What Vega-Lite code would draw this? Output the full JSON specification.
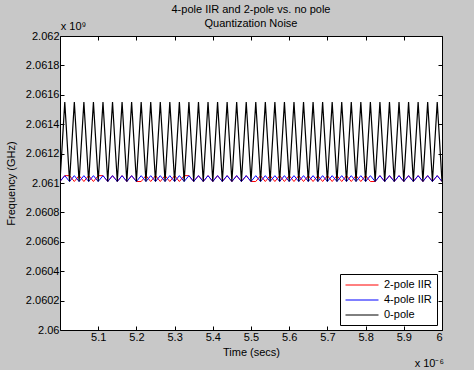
{
  "$schema": "https://vega.github.io/schema/vega-lite/v6.json",
  "width": 382,
  "height": 294,
  "autosize": {"type": "none"},
  "padding": {"left": 60, "top": 36, "right": 32, "bottom": 40},
  "background": "#c8c8c8",
  "config": {
    "font": "Liberation Sans",
    "view": {"stroke": "black", "strokeWidth": 1, "fill": "white"},
    "axis": {"grid": false, "domain": false, "tickColor": "black", "labelColor": "black", "titleColor": "black", "labelFont": "Liberation Sans", "labelFontSize": 11, "titleFont": "Liberation Sans", "titleFontSize": 11, "titleFontWeight": "normal", "tickSize": -4, "labelPadding": 5},
    "legend": {"orient": "bottom-right", "offset": 5, "fillColor": "white", "strokeColor": "black", "padding": 5, "symbolType": "M-3,0H3", "symbolSize": 121, "symbolOffset": 11, "labelOffset": 16, "symbolStrokeWidth": 1, "labelFont": "Liberation Sans", "labelFontSize": 11, "labelColor": "black", "rowPadding": 4}
  },
  "title": {"text": ["4-pole IIR and 2-pole vs. no pole", "Quantization Noise"], "font": "Liberation Sans", "fontSize": 11, "fontWeight": "normal", "color": "black", "lineHeight": 14, "offset": -8, "anchor": "middle"},
  "datasets": {
    "red": [
      {"t":5.0,"f":2.06101,"s":"2-pole IIR"},{"t":5.0125,"f":2.06105,"s":"2-pole IIR"},{"t":5.025,"f":2.06105,"s":"2-pole IIR"},{"t":5.0375,"f":2.06101,"s":"2-pole IIR"},{"t":5.05,"f":2.06105,"s":"2-pole IIR"},{"t":5.0625,"f":2.06101,"s":"2-pole IIR"},{"t":5.075,"f":2.06105,"s":"2-pole IIR"},{"t":5.0875,"f":2.06101,"s":"2-pole IIR"},{"t":5.1,"f":2.06105,"s":"2-pole IIR"},{"t":5.1125,"f":2.06105,"s":"2-pole IIR"},
      {"t":5.125,"f":2.06101,"s":"2-pole IIR"},{"t":5.1375,"f":2.06105,"s":"2-pole IIR"},{"t":5.15,"f":2.06101,"s":"2-pole IIR"},{"t":5.1625,"f":2.06105,"s":"2-pole IIR"},{"t":5.175,"f":2.06101,"s":"2-pole IIR"},{"t":5.1875,"f":2.06105,"s":"2-pole IIR"},{"t":5.2,"f":2.06101,"s":"2-pole IIR"},{"t":5.2125,"f":2.06101,"s":"2-pole IIR"},{"t":5.225,"f":2.06105,"s":"2-pole IIR"},{"t":5.2375,"f":2.06101,"s":"2-pole IIR"},
      {"t":5.25,"f":2.06105,"s":"2-pole IIR"},{"t":5.2625,"f":2.06101,"s":"2-pole IIR"},{"t":5.275,"f":2.06105,"s":"2-pole IIR"},{"t":5.2875,"f":2.06101,"s":"2-pole IIR"},{"t":5.3,"f":2.06105,"s":"2-pole IIR"},{"t":5.3125,"f":2.06101,"s":"2-pole IIR"},{"t":5.325,"f":2.06105,"s":"2-pole IIR"},{"t":5.3375,"f":2.06105,"s":"2-pole IIR"},{"t":5.35,"f":2.06101,"s":"2-pole IIR"},{"t":5.3625,"f":2.06105,"s":"2-pole IIR"},
      {"t":5.375,"f":2.06101,"s":"2-pole IIR"},{"t":5.3875,"f":2.06105,"s":"2-pole IIR"},{"t":5.4,"f":2.06101,"s":"2-pole IIR"},{"t":5.4125,"f":2.06105,"s":"2-pole IIR"},{"t":5.425,"f":2.06101,"s":"2-pole IIR"},{"t":5.4375,"f":2.06105,"s":"2-pole IIR"},{"t":5.45,"f":2.06101,"s":"2-pole IIR"},{"t":5.4625,"f":2.06105,"s":"2-pole IIR"},{"t":5.475,"f":2.06101,"s":"2-pole IIR"},{"t":5.4875,"f":2.06105,"s":"2-pole IIR"},
      {"t":5.5,"f":2.06101,"s":"2-pole IIR"},{"t":5.5125,"f":2.06101,"s":"2-pole IIR"},{"t":5.525,"f":2.06105,"s":"2-pole IIR"},{"t":5.5375,"f":2.06101,"s":"2-pole IIR"},{"t":5.55,"f":2.06105,"s":"2-pole IIR"},{"t":5.5625,"f":2.06101,"s":"2-pole IIR"},{"t":5.575,"f":2.06105,"s":"2-pole IIR"},{"t":5.5875,"f":2.06101,"s":"2-pole IIR"},{"t":5.6,"f":2.06105,"s":"2-pole IIR"},{"t":5.6125,"f":2.06101,"s":"2-pole IIR"},
      {"t":5.625,"f":2.06105,"s":"2-pole IIR"},{"t":5.6375,"f":2.06101,"s":"2-pole IIR"},{"t":5.65,"f":2.06105,"s":"2-pole IIR"},{"t":5.6625,"f":2.06101,"s":"2-pole IIR"},{"t":5.675,"f":2.06105,"s":"2-pole IIR"},{"t":5.6875,"f":2.06101,"s":"2-pole IIR"},{"t":5.7,"f":2.06105,"s":"2-pole IIR"},{"t":5.7125,"f":2.06101,"s":"2-pole IIR"},{"t":5.725,"f":2.06105,"s":"2-pole IIR"},{"t":5.7375,"f":2.06101,"s":"2-pole IIR"},
      {"t":5.75,"f":2.06105,"s":"2-pole IIR"},{"t":5.7625,"f":2.06101,"s":"2-pole IIR"},{"t":5.775,"f":2.06105,"s":"2-pole IIR"},{"t":5.7875,"f":2.06101,"s":"2-pole IIR"},{"t":5.8,"f":2.06105,"s":"2-pole IIR"},{"t":5.8125,"f":2.06101,"s":"2-pole IIR"},{"t":5.825,"f":2.06101,"s":"2-pole IIR"},{"t":5.8375,"f":2.06105,"s":"2-pole IIR"},{"t":5.85,"f":2.06101,"s":"2-pole IIR"},{"t":5.8625,"f":2.06105,"s":"2-pole IIR"},
      {"t":5.875,"f":2.06101,"s":"2-pole IIR"},{"t":5.8875,"f":2.06105,"s":"2-pole IIR"},{"t":5.9,"f":2.06101,"s":"2-pole IIR"},{"t":5.9125,"f":2.06105,"s":"2-pole IIR"},{"t":5.925,"f":2.06101,"s":"2-pole IIR"},{"t":5.9375,"f":2.06105,"s":"2-pole IIR"},{"t":5.95,"f":2.06101,"s":"2-pole IIR"},{"t":5.9625,"f":2.06105,"s":"2-pole IIR"},{"t":5.975,"f":2.06101,"s":"2-pole IIR"},{"t":5.9875,"f":2.06105,"s":"2-pole IIR"},
      {"t":6.0,"f":2.06101,"s":"2-pole IIR"}
    ],
    "blue": [
      {"t":5.0,"f":2.06101,"s":"4-pole IIR"},{"t":5.0125,"f":2.06105,"s":"4-pole IIR"},{"t":5.025,"f":2.06101,"s":"4-pole IIR"},{"t":5.0375,"f":2.06105,"s":"4-pole IIR"},{"t":5.05,"f":2.06101,"s":"4-pole IIR"},{"t":5.0625,"f":2.06105,"s":"4-pole IIR"},{"t":5.075,"f":2.06101,"s":"4-pole IIR"},{"t":5.0875,"f":2.06105,"s":"4-pole IIR"},{"t":5.1,"f":2.06101,"s":"4-pole IIR"},{"t":5.1125,"f":2.06105,"s":"4-pole IIR"},
      {"t":5.125,"f":2.06101,"s":"4-pole IIR"},{"t":5.1375,"f":2.06105,"s":"4-pole IIR"},{"t":5.15,"f":2.06101,"s":"4-pole IIR"},{"t":5.1625,"f":2.06105,"s":"4-pole IIR"},{"t":5.175,"f":2.06101,"s":"4-pole IIR"},{"t":5.1875,"f":2.06105,"s":"4-pole IIR"},{"t":5.2,"f":2.06101,"s":"4-pole IIR"},{"t":5.2125,"f":2.06105,"s":"4-pole IIR"},{"t":5.225,"f":2.06101,"s":"4-pole IIR"},{"t":5.2375,"f":2.06105,"s":"4-pole IIR"},
      {"t":5.25,"f":2.06101,"s":"4-pole IIR"},{"t":5.2625,"f":2.06105,"s":"4-pole IIR"},{"t":5.275,"f":2.06101,"s":"4-pole IIR"},{"t":5.2875,"f":2.06105,"s":"4-pole IIR"},{"t":5.3,"f":2.06101,"s":"4-pole IIR"},{"t":5.3125,"f":2.06105,"s":"4-pole IIR"},{"t":5.325,"f":2.06101,"s":"4-pole IIR"},{"t":5.3375,"f":2.06105,"s":"4-pole IIR"},{"t":5.35,"f":2.06101,"s":"4-pole IIR"},{"t":5.3625,"f":2.06105,"s":"4-pole IIR"},
      {"t":5.375,"f":2.06101,"s":"4-pole IIR"},{"t":5.3875,"f":2.06105,"s":"4-pole IIR"},{"t":5.4,"f":2.06101,"s":"4-pole IIR"},{"t":5.4125,"f":2.06105,"s":"4-pole IIR"},{"t":5.425,"f":2.06101,"s":"4-pole IIR"},{"t":5.4375,"f":2.06105,"s":"4-pole IIR"},{"t":5.45,"f":2.06101,"s":"4-pole IIR"},{"t":5.4625,"f":2.06105,"s":"4-pole IIR"},{"t":5.475,"f":2.06101,"s":"4-pole IIR"},{"t":5.4875,"f":2.06105,"s":"4-pole IIR"},
      {"t":5.5,"f":2.06101,"s":"4-pole IIR"},{"t":5.5125,"f":2.06105,"s":"4-pole IIR"},{"t":5.525,"f":2.06101,"s":"4-pole IIR"},{"t":5.5375,"f":2.06105,"s":"4-pole IIR"},{"t":5.55,"f":2.06101,"s":"4-pole IIR"},{"t":5.5625,"f":2.06105,"s":"4-pole IIR"},{"t":5.575,"f":2.06101,"s":"4-pole IIR"},{"t":5.5875,"f":2.06105,"s":"4-pole IIR"},{"t":5.6,"f":2.06101,"s":"4-pole IIR"},{"t":5.6125,"f":2.06105,"s":"4-pole IIR"},
      {"t":5.625,"f":2.06101,"s":"4-pole IIR"},{"t":5.6375,"f":2.06105,"s":"4-pole IIR"},{"t":5.65,"f":2.06101,"s":"4-pole IIR"},{"t":5.6625,"f":2.06105,"s":"4-pole IIR"},{"t":5.675,"f":2.06101,"s":"4-pole IIR"},{"t":5.6875,"f":2.06105,"s":"4-pole IIR"},{"t":5.7,"f":2.06101,"s":"4-pole IIR"},{"t":5.7125,"f":2.06105,"s":"4-pole IIR"},{"t":5.725,"f":2.06101,"s":"4-pole IIR"},{"t":5.7375,"f":2.06105,"s":"4-pole IIR"},
      {"t":5.75,"f":2.06101,"s":"4-pole IIR"},{"t":5.7625,"f":2.06105,"s":"4-pole IIR"},{"t":5.775,"f":2.06101,"s":"4-pole IIR"},{"t":5.7875,"f":2.06105,"s":"4-pole IIR"},{"t":5.8,"f":2.06101,"s":"4-pole IIR"},{"t":5.8125,"f":2.06105,"s":"4-pole IIR"},{"t":5.825,"f":2.06101,"s":"4-pole IIR"},{"t":5.8375,"f":2.06105,"s":"4-pole IIR"},{"t":5.85,"f":2.06101,"s":"4-pole IIR"},{"t":5.8625,"f":2.06105,"s":"4-pole IIR"},
      {"t":5.875,"f":2.06101,"s":"4-pole IIR"},{"t":5.8875,"f":2.06105,"s":"4-pole IIR"},{"t":5.9,"f":2.06101,"s":"4-pole IIR"},{"t":5.9125,"f":2.06105,"s":"4-pole IIR"},{"t":5.925,"f":2.06101,"s":"4-pole IIR"},{"t":5.9375,"f":2.06105,"s":"4-pole IIR"},{"t":5.95,"f":2.06101,"s":"4-pole IIR"},{"t":5.9625,"f":2.06105,"s":"4-pole IIR"},{"t":5.975,"f":2.06101,"s":"4-pole IIR"},{"t":5.9875,"f":2.06105,"s":"4-pole IIR"},
      {"t":6.0,"f":2.06101,"s":"4-pole IIR"}
    ],
    "black": [
      {"t":5.0,"f":2.06101,"s":"0-pole"},{"t":5.0125,"f":2.06155,"s":"0-pole"},{"t":5.025,"f":2.06101,"s":"0-pole"},{"t":5.0375,"f":2.06155,"s":"0-pole"},{"t":5.05,"f":2.06101,"s":"0-pole"},{"t":5.0625,"f":2.06155,"s":"0-pole"},{"t":5.075,"f":2.06101,"s":"0-pole"},{"t":5.0875,"f":2.06155,"s":"0-pole"},{"t":5.1,"f":2.06101,"s":"0-pole"},{"t":5.1125,"f":2.06155,"s":"0-pole"},
      {"t":5.125,"f":2.06101,"s":"0-pole"},{"t":5.1375,"f":2.06155,"s":"0-pole"},{"t":5.15,"f":2.06101,"s":"0-pole"},{"t":5.1625,"f":2.06155,"s":"0-pole"},{"t":5.175,"f":2.06101,"s":"0-pole"},{"t":5.1875,"f":2.06155,"s":"0-pole"},{"t":5.2,"f":2.06101,"s":"0-pole"},{"t":5.2125,"f":2.06155,"s":"0-pole"},{"t":5.225,"f":2.06101,"s":"0-pole"},{"t":5.2375,"f":2.06155,"s":"0-pole"},
      {"t":5.25,"f":2.06101,"s":"0-pole"},{"t":5.2625,"f":2.06155,"s":"0-pole"},{"t":5.275,"f":2.06101,"s":"0-pole"},{"t":5.2875,"f":2.06155,"s":"0-pole"},{"t":5.3,"f":2.06101,"s":"0-pole"},{"t":5.3125,"f":2.06155,"s":"0-pole"},{"t":5.325,"f":2.06101,"s":"0-pole"},{"t":5.3375,"f":2.06155,"s":"0-pole"},{"t":5.35,"f":2.06101,"s":"0-pole"},{"t":5.3625,"f":2.06155,"s":"0-pole"},
      {"t":5.375,"f":2.06101,"s":"0-pole"},{"t":5.3875,"f":2.06155,"s":"0-pole"},{"t":5.4,"f":2.06101,"s":"0-pole"},{"t":5.4125,"f":2.06155,"s":"0-pole"},{"t":5.425,"f":2.06101,"s":"0-pole"},{"t":5.4375,"f":2.06155,"s":"0-pole"},{"t":5.45,"f":2.06101,"s":"0-pole"},{"t":5.4625,"f":2.06155,"s":"0-pole"},{"t":5.475,"f":2.06101,"s":"0-pole"},{"t":5.4875,"f":2.06155,"s":"0-pole"},
      {"t":5.5,"f":2.06101,"s":"0-pole"},{"t":5.5125,"f":2.06155,"s":"0-pole"},{"t":5.525,"f":2.06101,"s":"0-pole"},{"t":5.5375,"f":2.06155,"s":"0-pole"},{"t":5.55,"f":2.06101,"s":"0-pole"},{"t":5.5625,"f":2.06155,"s":"0-pole"},{"t":5.575,"f":2.06101,"s":"0-pole"},{"t":5.5875,"f":2.06155,"s":"0-pole"},{"t":5.6,"f":2.06101,"s":"0-pole"},{"t":5.6125,"f":2.06155,"s":"0-pole"},
      {"t":5.625,"f":2.06101,"s":"0-pole"},{"t":5.6375,"f":2.06155,"s":"0-pole"},{"t":5.65,"f":2.06101,"s":"0-pole"},{"t":5.6625,"f":2.06155,"s":"0-pole"},{"t":5.675,"f":2.06101,"s":"0-pole"},{"t":5.6875,"f":2.06155,"s":"0-pole"},{"t":5.7,"f":2.06101,"s":"0-pole"},{"t":5.7125,"f":2.06155,"s":"0-pole"},{"t":5.725,"f":2.06101,"s":"0-pole"},{"t":5.7375,"f":2.06155,"s":"0-pole"},
      {"t":5.75,"f":2.06101,"s":"0-pole"},{"t":5.7625,"f":2.06155,"s":"0-pole"},{"t":5.775,"f":2.06101,"s":"0-pole"},{"t":5.7875,"f":2.06155,"s":"0-pole"},{"t":5.8,"f":2.06101,"s":"0-pole"},{"t":5.8125,"f":2.06155,"s":"0-pole"},{"t":5.825,"f":2.06101,"s":"0-pole"},{"t":5.8375,"f":2.06155,"s":"0-pole"},{"t":5.85,"f":2.06101,"s":"0-pole"},{"t":5.8625,"f":2.06155,"s":"0-pole"},
      {"t":5.875,"f":2.06101,"s":"0-pole"},{"t":5.8875,"f":2.06155,"s":"0-pole"},{"t":5.9,"f":2.06101,"s":"0-pole"},{"t":5.9125,"f":2.06155,"s":"0-pole"},{"t":5.925,"f":2.06101,"s":"0-pole"},{"t":5.9375,"f":2.06155,"s":"0-pole"},{"t":5.95,"f":2.06101,"s":"0-pole"},{"t":5.9625,"f":2.06155,"s":"0-pole"},{"t":5.975,"f":2.06101,"s":"0-pole"},{"t":5.9875,"f":2.06155,"s":"0-pole"},
      {"t":6.0,"f":2.06101,"s":"0-pole"}
    ]
  },
  "layer": [
    {
      "data": {"name": "red"},
      "mark": {"type": "line", "clip": true, "strokeWidth": 1},
      "encoding": {
        "x": {"field": "t", "type": "quantitative", "scale": {"domain": [5.002, 6]}, "axis": {"orient": "bottom", "values": [5.1, 5.2, 5.3, 5.4, 5.5, 5.6, 5.7, 5.8, 5.9, 6.0], "format": ".1~f", "title": "Time (secs)", "titlePadding": 4}},
        "y": {"field": "f", "type": "quantitative", "scale": {"domain": [2.06, 2.062], "zero": false}, "axis": {"orient": "left", "values": [2.06, 2.0602, 2.0604, 2.0606, 2.0608, 2.061, 2.0612, 2.0614, 2.0616, 2.0618, 2.062], "format": ".4~f", "title": "Frequency (GHz)", "titlePadding": 9}},
        "color": {"field": "s", "type": "nominal", "scale": {"domain": ["2-pole IIR", "4-pole IIR", "0-pole"], "range": ["#ff0000", "#0000ff", "#000000"]}, "legend": {"title": null}}
      }
    },
    {
      "data": {"name": "blue"},
      "mark": {"type": "line", "clip": true, "strokeWidth": 1},
      "encoding": {
        "x": {"field": "t", "type": "quantitative", "axis": {"orient": "top", "values": [5.1, 5.2, 5.3, 5.4, 5.5, 5.6, 5.7, 5.8, 5.9, 6.0], "labels": false, "title": null}},
        "y": {"field": "f", "type": "quantitative", "axis": {"orient": "right", "values": [2.06, 2.0602, 2.0604, 2.0606, 2.0608, 2.061, 2.0612, 2.0614, 2.0616, 2.0618, 2.062], "labels": false, "title": null}},
        "color": {"field": "s", "type": "nominal"}
      }
    },
    {
      "data": {"name": "black"},
      "mark": {"type": "line", "clip": true, "strokeWidth": 1.2},
      "encoding": {
        "x": {"field": "t", "type": "quantitative", "axis": null},
        "y": {"field": "f", "type": "quantitative", "axis": null},
        "color": {"field": "s", "type": "nominal"}
      }
    },
    {
      "data": {"values": [{"t": 5.002, "f": 2.062, "label": "x 10⁹"}]},
      "mark": {"type": "text", "align": "left", "baseline": "alphabetic", "dy": -6, "fontSize": 11, "font": "Liberation Sans", "color": "black"},
      "encoding": {
        "x": {"field": "t", "type": "quantitative", "axis": null},
        "y": {"field": "f", "type": "quantitative", "axis": null},
        "text": {"field": "label"}
      }
    },
    {
      "data": {"values": [{"t": 6.0, "f": 2.06, "label": "x 10⁻⁶"}]},
      "mark": {"type": "text", "align": "right", "baseline": "alphabetic", "dy": 37, "dx": 2, "fontSize": 11, "font": "Liberation Sans", "color": "black"},
      "encoding": {
        "x": {"field": "t", "type": "quantitative", "axis": null},
        "y": {"field": "f", "type": "quantitative", "axis": null},
        "text": {"field": "label"}
      }
    }
  ],
  "resolve": {"axis": {"x": "independent", "y": "independent"}}
}
